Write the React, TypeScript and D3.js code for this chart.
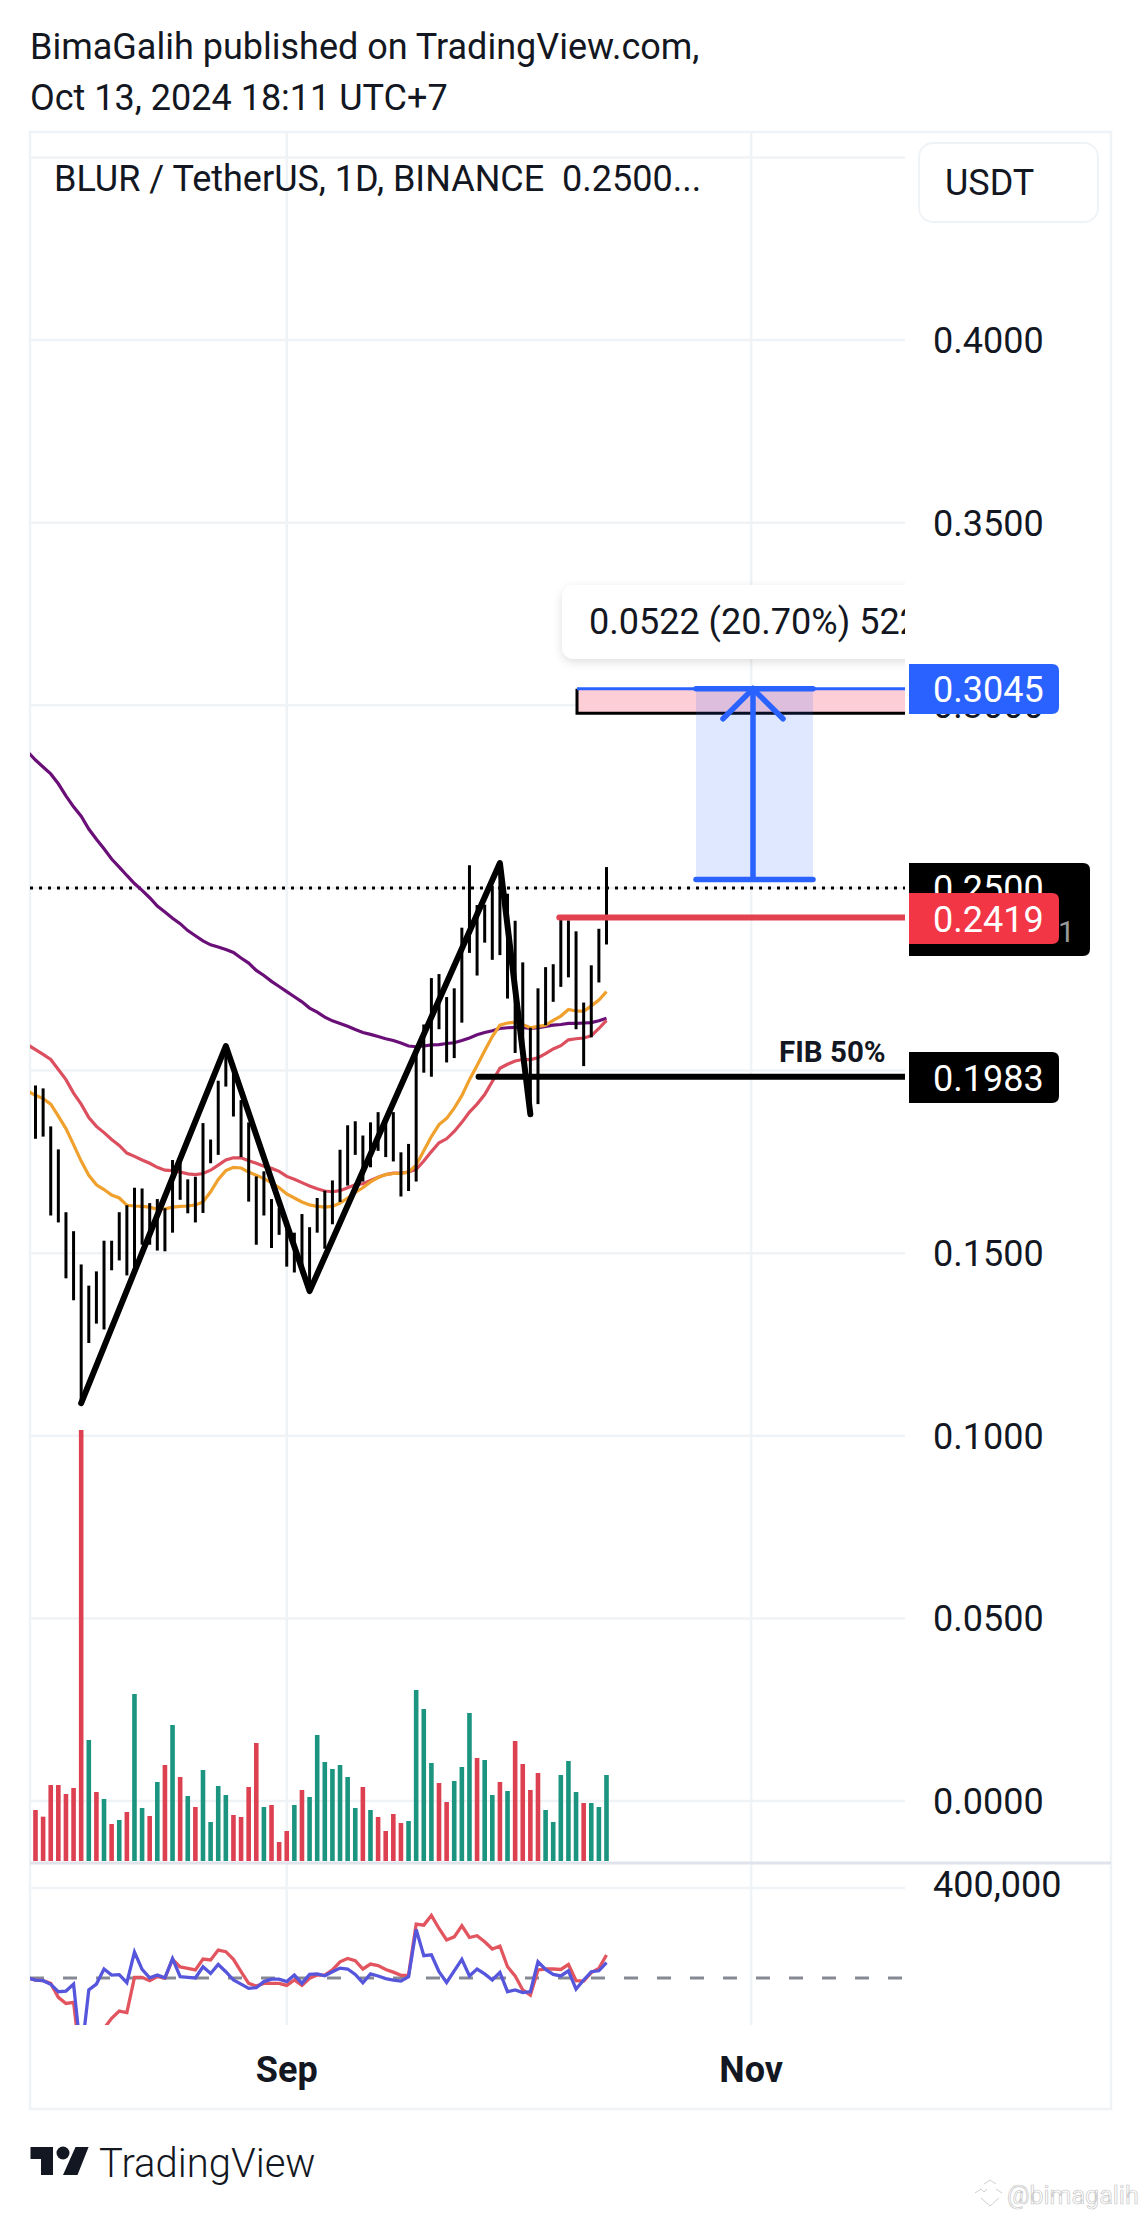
import * as d3 from "d3";

const W = 1140;
const H = 2215;

// daily bars, first one is 30 Jul
const highs = [.1959,.1951,.1847,.1784,.1612,.1560,.1469,.1411,.1450,.1534,.1534,.1612,.1631,.1679,.1677,.1637,.1648,.1623,.1755,.1752,.1702,.1709,.1856,.1811,.1972,.2048,.2014,.1919,.1858,.1710,.1724,.1648,.1623,.1590,.1556,.1607,.1571,.1651,.1671,.1699,.1783,.1850,.1861,.1822,.1858,.1886,.1858,.1886,.1776,.1799,.2048,.2126,.2253,.2264,.2201,.2225,.2391,.2562,.2453,.2454,.2506,.2568,.2484,.2410,.2296,.2117,.2225,.2283,.2291,.2417,.2411,.2381,.2186,.2288,.2388,.2557];
const lows = [.1813,.1819,.1603,.1584,.1431,.1371,.1089,.1254,.1307,.1291,.1453,.1480,.1439,.1444,.1523,.1523,.1507,.1505,.1556,.1646,.1609,.1584,.1610,.1746,.1769,.1956,.1874,.1763,.1641,.1523,.1603,.1514,.1550,.1463,.1447,.1444,.1394,.1556,.1512,.1579,.1640,.1685,.1769,.1696,.1735,.1780,.1763,.1751,.1655,.1670,.1696,.1994,.1983,.2113,.2022,.2034,.2131,.2322,.2260,.2350,.2303,.2316,.2197,.2048,.2020,.1880,.1908,.2124,.2188,.2229,.2255,.2113,.2012,.2091,.2241,.2345];

// moving averages start one bar before the first candle
const maOrange = [.1943,.1932,.1923,.1908,.1875,.1841,.1797,.1752,.1713,.1687,.1674,.1659,.1651,.1631,.1629,.1628,.1626,.1620,.1621,.1626,.1628,.1629,.1632,.1640,.1668,.1702,.1726,.1735,.1733,.1722,.1713,.1704,.1693,.1679,.1662,.1651,.1640,.1632,.1628,.1626,.1628,.1637,.1651,.1666,.1679,.1695,.1707,.1715,.1718,.1718,.1722,.1741,.1780,.1819,.1852,.1869,.1897,.1931,.1975,.2014,.2054,.2093,.2124,.2130,.2132,.2126,.2117,.2121,.2124,.2137,.2149,.2167,.2163,.2162,.2177,.2193,.2216];
const maRed = [.2070,.2057,.2044,.2030,.2003,.1975,.1938,.1908,.1871,.1847,.1830,.1811,.1795,.1774,.1765,.1755,.1746,.1735,.1727,.1726,.1722,.1717,.1715,.1718,.1727,.1741,.1755,.1761,.1761,.1753,.1746,.1738,.1732,.1724,.1710,.1702,.1693,.1684,.1676,.1670,.1668,.1671,.1679,.1687,.1690,.1699,.1708,.1715,.1719,.1719,.1722,.1729,.1752,.1778,.1802,.1813,.1833,.1858,.1886,.1908,.1934,.1970,.2006,.2017,.2026,.2030,.2030,.2035,.2046,.2059,.2068,.2084,.2087,.2089,.2095,.2115,.2137];
const maPurple = [.2872,.2850,.2831,.2812,.2785,.2752,.2722,.2696,.2661,.2633,.2607,.2579,.2557,.2534,.2512,.2493,.2473,.2450,.2434,.2417,.2402,.2383,.2369,.2355,.2344,.2338,.2331,.2323,.2308,.2294,.2274,.2260,.2244,.2230,.2216,.2202,.2188,.2171,.2160,.2146,.2136,.2129,.2121,.2112,.2104,.2099,.2093,.2087,.2082,.2075,.2067,.2065,.2067,.2070,.2071,.2074,.2076,.2082,.2089,.2098,.2104,.2109,.2115,.2117,.2118,.2118,.2115,.2117,.2121,.2124,.2126,.2129,.2129,.2130,.2131,.2136,.2143];

const volumes = [153,133,228,228,201,219,1293,363,207,186,111,123,147,501,159,135,237,288,408,252,195,162,273,117,225,198,138,132,222,354,162,168,57,90,168,213,192,378,297,276,288,252,159,222,153,132,90,141,114,120,513,456,294,234,177,240,282,444,309,303,198,237,210,360,291,213,264,153,117,258,300,207,174,174,162,258];
const volumeSide = "rrrrrrrgrgrgrggrgrgrgrggggrrrrgrrrgrggggggg".concat("rgrrrrgggg", "rrgggrggrgrrrrggggg", "rgggg").split("");

// oscillator in thousands, starts one bar before the first candle
const oscRed = [0,-9,-12,-24,-86,-113,-108,-394,-365,-305,-224,-179,-147,-154,3,3,-12,6,-1,83,49,43,36,84,80,124,117,83,28,-24,-36,-24,-24,-24,-33,-9,-33,-1,13,13,36,72,87,77,40,62,55,38,26,12,13,240,235,278,220,169,183,232,180,188,161,129,142,50,9,-53,-76,36,40,40,38,60,-12,-14,24,43,102];
const oscBlue = [0,-9,-12,-28,-61,-58,-27,-350,-53,-27,40,13,15,-21,115,38,1,13,1,86,6,3,0,50,20,60,28,-9,-27,-46,-43,-16,-5,-5,-16,13,-24,16,18,10,28,44,40,16,-21,18,9,-3,-9,-14,6,216,99,103,28,-20,32,83,9,40,18,-9,25,-61,-53,-65,-61,72,38,16,9,32,-49,-9,28,32,68];

// hand drawn zigzag on the chart, bar index and price
const zigzagBars = [6, 25, 36, 61, 65];
const zigzagPrices = [.1089, .2067, .1396, .2568, .1880];

const priceTicks = [0.45, 0.4, 0.35, 0.3, 0.25, 0.2, 0.15, 0.1, 0.05, 0];
const priceLabels = [0.4, 0.35, 0.3, 0.15, 0.1, 0.05, 0];
const monthTicks = [{ label: "Sep", bar: 33 }, { label: "Nov", bar: 94 }];

const lastPrice = 0.25;
const targetPrice = 0.3045;
const targetBase = 0.2523;
const resistancePrice = 0.2419;
const fibPrice = 0.1983;
const zoneBottom = 0.2978;

const FONT = "Roboto, sans-serif";
const INK = "#131722";
const GRID = "#f0f3f6";
const BLUE = "#2962ff";
const RED = "#f23645";

const paneLeft = 30;
const paneRight = 905;
const frameRight = 1111;
const frameTop = 132;
const frameBottom = 2109;
const separatorY = 1863;
const oscBottom = 2025;
const zoneLeft = 577;

const x = d3.scaleLinear().domain([0, 75]).range([35.5, 606.5]);
const y = d3.scaleLinear().domain([0, 0.4]).range([1801, 340]);
const vol = d3.scaleLinear().domain([0, 1293]).range([1861, 1430]);
const osc = d3.scaleLinear().domain([0, 400]).range([1978, 1888]);

const seriesLine = (scale: d3.ScaleLinear<number, number>) =>
  d3.line<number>().x((_, i) => x(i - 1)).y((d) => scale(d));

const PriceLabel = ({ value, py, fill = INK }: { value: string; py: number; fill?: string }) => (
  <text x={933} y={py} dy="0.36em" fontSize={36} fontFamily={FONT} fill={fill}>{value}</text>
);

// flat on the left where it touches the pane, rounded on the right
const Tag = ({ top, bottom, right, fill }: { top: number; bottom: number; right: number; fill: string }) => {
  const r = 7;
  return (
    <path
      d={`M909,${top}H${right - r}Q${right},${top} ${right},${top + r}V${bottom - r}Q${right},${bottom} ${right - r},${bottom}H909Z`}
      fill={fill}
    />
  );
};

const App = () => {
  const zigzag = d3.line<number>().x((d) => x(d)).y((_, i) => y(zigzagPrices[i]));
  const arrowBar = x.invert(753);
  const boxLeft = 696;
  const boxRight = 813;

  return (
    <svg width={W} height={H} style={{ position: "absolute", left: 0, top: 0 }} fontFamily={FONT}>
      <defs>
        <clipPath id="pane"><rect x={paneLeft} y={frameTop} width={paneRight - paneLeft} height={separatorY - frameTop} /></clipPath>
        <clipPath id="oscPane"><rect x={paneLeft} y={separatorY + 2} width={paneRight - paneLeft} height={oscBottom - separatorY - 2} /></clipPath>
        <clipPath id="lastClip"><rect x={909} y={863} width={190} height={30} /></clipPath>
        <filter id="soft" x="-10%" y="-30%" width="120%" height="170%">
          <feDropShadow dx={0} dy={3} stdDeviation={5} floodColor="#000" floodOpacity={0.13} />
        </filter>
      </defs>

      <rect width={W} height={H} fill="#fff" />

      <text x={30} y={46} dy="0.36em" fontSize={36} fill={INK}>BimaGalih published on TradingView.com,</text>
      <text x={30} y={97} dy="0.36em" fontSize={36} fill={INK}>Oct 13, 2024 18:11 UTC+7</text>

      <rect x={paneLeft} y={frameTop} width={frameRight - paneLeft} height={frameBottom - frameTop} fill="none" stroke={GRID} strokeWidth={2.5} />

      {priceTicks.map((t) => (
        <line key={t} x1={paneLeft} x2={paneRight} y1={y(t)} y2={y(t)} stroke={GRID} strokeWidth={2.5} />
      ))}
      {monthTicks.map((m) => (
        <g key={m.label}>
          <line x1={x(m.bar)} x2={x(m.bar)} y1={frameTop} y2={oscBottom} stroke={GRID} strokeWidth={2.5} />
          <text x={x(m.bar)} y={2069} dy="0.36em" textAnchor="middle" fontSize={36} fontWeight={700} fill={INK}>{m.label}</text>
        </g>
      ))}
      <line x1={paneLeft} x2={paneRight} y1={osc(400)} y2={osc(400)} stroke={GRID} strokeWidth={2.5} />

      <text x={54} y={178} dy="0.36em" fontSize={36} fill={INK} xmlSpace="preserve">BLUR / TetherUS, 1D, BINANCE  0.2500...</text>

      <g clipPath="url(#pane)">
        {volumes.map((v, i) => (
          <rect key={i} x={x(i) - 2.3} width={4.6} y={vol(v)} height={vol(0) - vol(v)} fill={volumeSide[i] === "g" ? "#1c9580" : "#dd4050"} />
        ))}

        <line x1={paneLeft} x2={paneRight} y1={y(lastPrice)} y2={y(lastPrice)} stroke="#000" strokeWidth={3} strokeDasharray="3 6" />

        <path d={seriesLine(y)(maPurple) ?? ""} fill="none" stroke="#6a0f78" strokeWidth={3.2} />
        <path d={seriesLine(y)(maRed) ?? ""} fill="none" stroke="#dc4f5e" strokeWidth={3.2} />
        <path d={seriesLine(y)(maOrange) ?? ""} fill="none" stroke="#f0a02c" strokeWidth={3.2} />

        {highs.map((h, i) => (
          <line key={i} x1={x(i)} x2={x(i)} y1={y(h)} y2={y(lows[i])} stroke="#000" strokeWidth={3} />
        ))}

        <path d={zigzag(zigzagBars) ?? ""} fill="none" stroke="#000" strokeWidth={6} strokeLinecap="round" strokeLinejoin="round" />

        <rect x={zoneLeft} y={y(targetPrice)} width={paneRight - zoneLeft} height={y(zoneBottom) - y(targetPrice)} fill="#fdced6" />
        <path d={`M${zoneLeft},${y(targetPrice)}V${y(zoneBottom)}H${paneRight}`} fill="none" stroke="#000" strokeWidth={3} />
        <rect x={boxLeft} y={y(targetPrice)} width={boxRight - boxLeft} height={y(targetBase) - y(targetPrice)} fill={BLUE} fillOpacity={0.15} />
        <line x1={zoneLeft} x2={paneRight} y1={y(targetPrice)} y2={y(targetPrice)} stroke={BLUE} strokeWidth={3} />
        <line x1={boxLeft} x2={boxRight} y1={y(targetPrice)} y2={y(targetPrice)} stroke={BLUE} strokeWidth={5.5} strokeLinecap="round" />
        <line x1={boxLeft} x2={boxRight} y1={y(targetBase)} y2={y(targetBase)} stroke={BLUE} strokeWidth={5.5} strokeLinecap="round" />
        <line x1={x(arrowBar)} x2={x(arrowBar)} y1={y(targetPrice)} y2={y(targetBase)} stroke={BLUE} strokeWidth={5.5} />
        <path d={`M${x(arrowBar) - 30},${y(targetPrice) + 30}L${x(arrowBar)},${y(targetPrice)}L${x(arrowBar) + 30},${y(targetPrice) + 30}`} fill="none" stroke={BLUE} strokeWidth={5.5} strokeLinecap="round" />

        <line x1={x(68.8)} x2={paneRight} y1={y(resistancePrice)} y2={y(resistancePrice)} stroke="#e2424f" strokeWidth={6} strokeLinecap="round" />
        <line x1={x(57.8) + 3} x2={paneRight} y1={y(fibPrice)} y2={y(fibPrice)} stroke="#000" strokeWidth={6} strokeLinecap="round" />
        <text x={785} y={1062} fontSize={29.5} fontWeight={700} fill={INK} dx={-6}>FIB 50%</text>

        <rect x={562} y={585} width={400} height={74} rx={12} fill="#fff" filter="url(#soft)" />
        <text x={589} y={621} dy="0.36em" fontSize={36} fill={INK}>0.0522 (20.70%) 522</text>
      </g>

      <g clipPath="url(#oscPane)">
        <line x1={paneLeft} x2={paneRight} y1={osc(0)} y2={osc(0)} stroke="#868993" strokeWidth={3} strokeDasharray="14 19" />
        <path d={seriesLine(osc)(oscRed) ?? ""} fill="none" stroke="#e2555f" strokeWidth={3.3} />
        <path d={seriesLine(osc)(oscBlue) ?? ""} fill="none" stroke="#5656dc" strokeWidth={3.3} />
      </g>

      <line x1={paneLeft} x2={frameRight} y1={separatorY} y2={separatorY} stroke="#e0e3eb" strokeWidth={3} />

      <rect x={919} y={143} width={179} height={79} rx={14} fill="#fff" stroke={GRID} strokeWidth={2} />
      <text x={945} y={182} dy="0.36em" fontSize={36} fill={INK}>USDT</text>

      {priceLabels.map((p) => (
        <PriceLabel key={p} value={p.toFixed(4)} py={y(p)} />
      ))}
      <PriceLabel value="400,000" py={1884} />

      <Tag top={664} bottom={714} right={1059} fill={BLUE} />
      <PriceLabel value={targetPrice.toFixed(4)} py={y(targetPrice)} fill="#fff" />

      <Tag top={863} bottom={956} right={1090} fill="#000" />
      <g clipPath="url(#lastClip)">
        <PriceLabel value={lastPrice.toFixed(4)} py={y(lastPrice)} fill="#fff" />
      </g>
      <text x={1058} y={942} fontSize={30} fill="#9a9a9a">1</text>
      <Tag top={893} bottom={944} right={1059} fill={RED} />
      <PriceLabel value={resistancePrice.toFixed(4)} py={919} fill="#fff" />

      <Tag top={1052} bottom={1103} right={1059} fill="#000" />
      <PriceLabel value={fibPrice.toFixed(4)} py={1078} fill="#fff" />

      <g fill={INK}>
        <path d="M30.5,2147H53V2175H41V2159H30.5Z" />
        <circle cx={63} cy={2153} r={6.5} />
        <path d="M75.5,2147H88.6L77.5,2175H63Z" />
      </g>
      <text x={99} y={2177} fontSize={40} fontWeight={300} fill={INK}>TradingView</text>

      <g fill="none" stroke="#cfcfcf" strokeWidth={1}>
        <path d="M975,2193l6,-4l3,3l3,-3M984,2184l6,-4l6,4M996,2189l6,4M981,2198l9,8l9,-8" />
      </g>
      <text x={1007} y={2204} fontSize={25} fill="#fff" stroke="#c8c8c8" strokeWidth={0.7}>@bimagalih</text>
    </svg>
  );
};

export default App;
